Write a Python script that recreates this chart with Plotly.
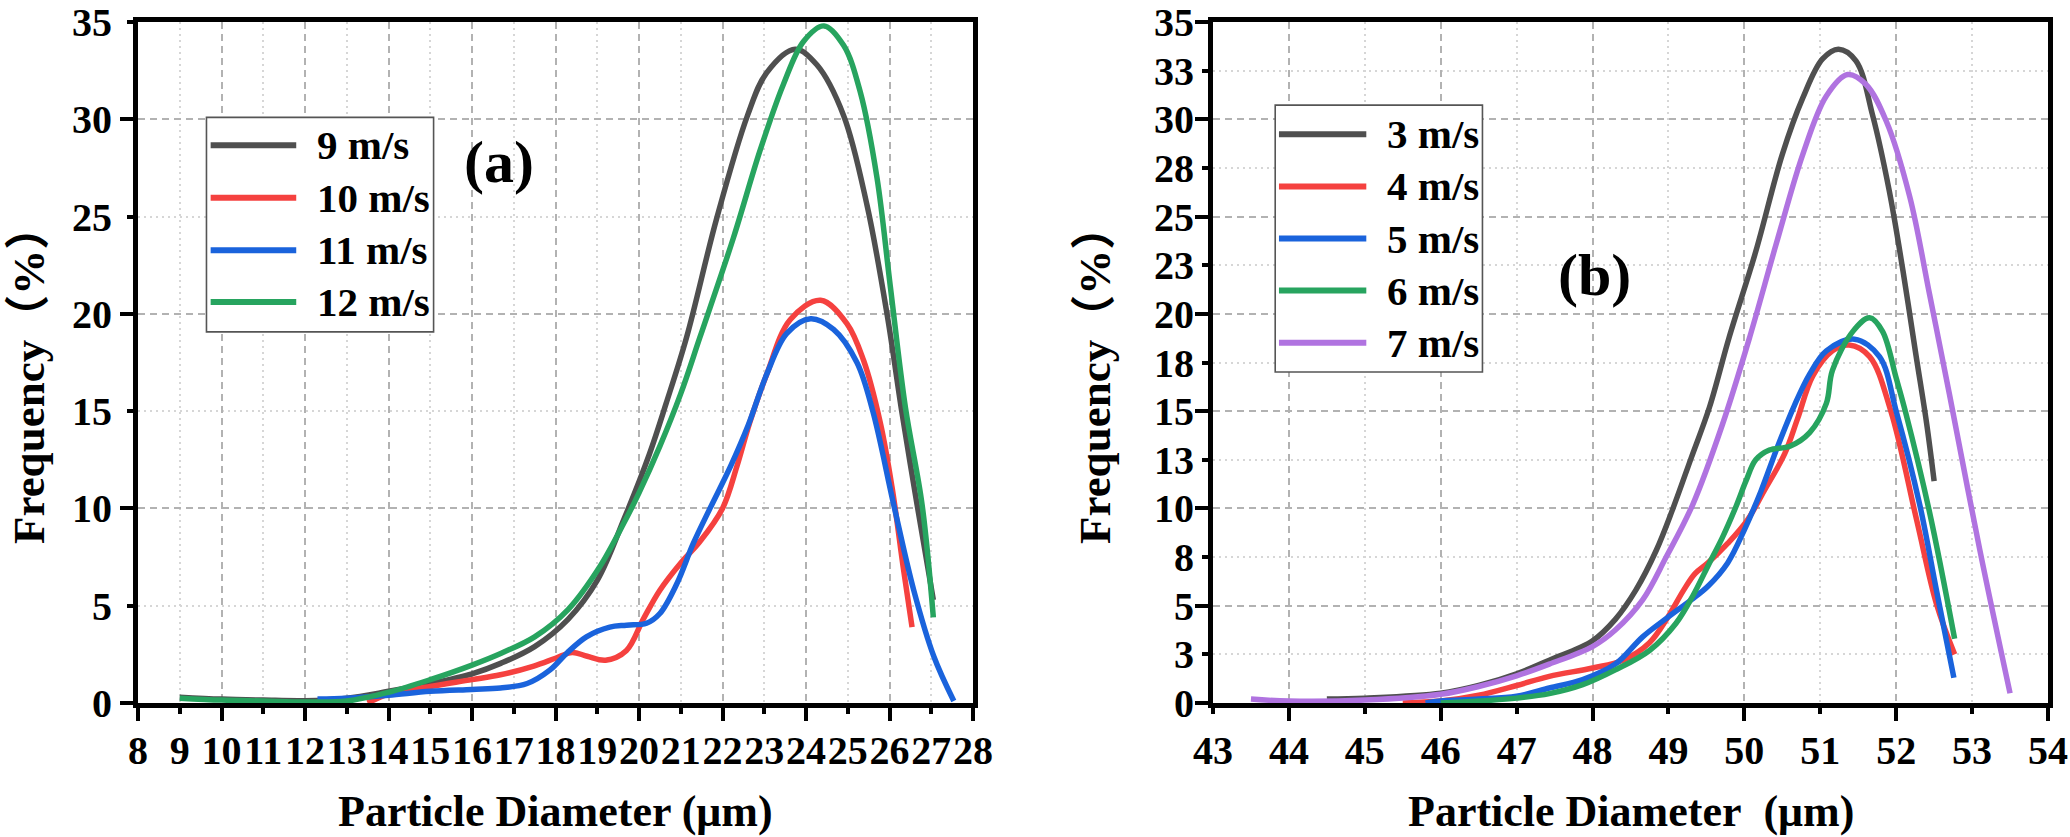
import math
import plotly.graph_objects as go

# ---------------- Panel (a) data ----------------
a_names = ["9 m/s", "10 m/s", "11 m/s", "12 m/s"]
a9_x = [9, 10, 11, 12, 13, 14, 15, 16, 16.7, 17.5, 18.3, 19.0, 19.65, 20.25, 20.65, 21.14, 21.86, 22.6, 23.06, 23.74, 24.26, 24.9, 25.46, 25.94, 26.3, 26.66, 27.05]
a9_y = [0.3, 0.2, 0.15, 0.12, 0.25, 0.6, 1.0, 1.5, 2.05, 2.9, 4.3, 6.3, 9.5, 12.8, 15.4, 18.8, 24.9, 30.2, 32.4, 33.6, 32.8, 30.2, 25.6, 20.0, 14.9, 10.2, 5.3]
a10_x = [13.5, 14, 15, 16, 16.68, 17.48, 18.0, 18.4, 18.76, 19.2, 19.7, 20.1, 20.5, 21.0, 21.46, 22.0, 22.35, 22.65, 23.06, 23.62, 24.35, 24.98, 25.38, 25.78, 26.06, 26.34, 26.54]
a10_y = [0.0, 0.45, 0.85, 1.2, 1.45, 1.9, 2.3, 2.6, 2.4, 2.2, 2.7, 4.3, 5.8, 7.2, 8.3, 10.0, 12.2, 14.4, 16.9, 19.7, 20.7, 19.5, 17.6, 14.4, 11.1, 6.8, 3.9]
a11_x = [12.3, 13, 14, 15, 16, 16.68, 17.32, 17.87, 18.27, 18.74, 19.3, 19.7, 20.18, 20.5, 20.9, 21.3, 21.7, 22.2, 22.62, 23.06, 23.54, 24.11, 24.66, 25.22, 25.6, 26.1, 26.58, 27.06, 27.54]
a11_y = [0.2, 0.25, 0.4, 0.6, 0.7, 0.77, 1.0, 1.7, 2.56, 3.4, 3.9, 4.0, 4.1, 4.6, 6.1, 8.2, 10.0, 12.2, 14.3, 16.9, 19.0, 19.75, 19.2, 17.5, 15.0, 10.2, 5.8, 2.4, 0.1]
a12_x = [9, 10, 11, 12, 13, 14, 15, 16, 16.7, 17.5, 18.3, 19.06, 19.65, 20.0, 20.5, 21.0, 21.46, 22.26, 22.9, 23.46, 23.94, 24.43, 24.9, 25.3, 25.7, 26.02, 26.38, 26.78, 27.05]
a12_y = [0.25, 0.15, 0.1, 0.05, 0.1, 0.55, 1.2, 1.95, 2.56, 3.4, 4.8, 7.0, 9.3, 10.8, 13.2, 15.9, 18.8, 23.9, 28.4, 31.8, 34.0, 34.8, 33.8, 31.4, 27.0, 21.4, 15.2, 10.2, 4.4]

# ---------------- Panel (b) data ----------------
b_names = ["3 m/s", "4 m/s", "5 m/s", "6 m/s", "7 m/s"]
b3_x = [44.5, 45, 46, 46.5, 47, 47.43, 48.0, 48.3, 48.57, 48.84, 49.05, 49.3, 49.54, 49.8, 50.15, 50.5, 50.77, 51.03, 51.24, 51.47, 51.69, 51.91, 52.09, 52.26, 52.4, 52.5]
b3_y = [0.2, 0.25, 0.5, 0.9, 1.5, 2.2, 3.2, 4.3, 5.8, 7.85, 9.9, 12.6, 15.2, 18.8, 23.2, 28.2, 31.1, 33.1, 33.6, 33.0, 30.2, 26.3, 22.2, 17.9, 14.4, 11.4]
b4_x = [45.5, 46, 46.5, 47, 47.43, 48.0, 48.4, 48.75, 48.99, 49.2, 49.35, 49.52, 49.78, 50.04, 50.26, 50.53, 50.7, 50.9, 51.16, 51.38, 51.65, 51.93, 52.27, 52.53, 52.77]
b4_y = [0.0, 0.1, 0.4, 0.9, 1.37, 1.8, 2.2, 3.1, 4.4, 5.8, 6.65, 7.2, 8.2, 9.4, 10.9, 12.8, 14.6, 16.8, 18.1, 18.4, 17.8, 15.0, 9.4, 5.1, 2.5]
b5_x = [45.8, 46, 46.5, 47, 47.43, 47.87, 48.3, 48.66, 48.99, 49.3, 49.52, 49.78, 50.0, 50.22, 50.44, 50.66, 50.86, 51.08, 51.45, 51.78, 52.0, 52.31, 52.53, 52.76]
b5_y = [0.0, 0.1, 0.2, 0.35, 0.77, 1.2, 2.0, 3.4, 4.4, 5.3, 6.0, 7.2, 8.9, 10.9, 13.2, 15.3, 16.9, 18.1, 18.7, 17.8, 15.0, 10.2, 5.8, 1.3]
b6_x = [46.0, 46.5, 47, 47.43, 47.87, 48.3, 48.75, 49.1, 49.32, 49.54, 49.71, 49.89, 50.02, 50.15, 50.33, 50.6, 50.86, 51.08, 51.16, 51.43, 51.65, 51.82, 52.0, 52.12, 52.44, 52.77]
b6_y = [0.0, 0.1, 0.25, 0.48, 0.94, 1.7, 2.7, 4.1, 5.5, 7.2, 8.5, 10.1, 11.4, 12.5, 13.0, 13.2, 13.9, 15.4, 17.1, 19.1, 19.8, 19.1, 16.7, 15.0, 9.8, 3.3]
b7_x = [43.5, 44, 45, 46, 46.5, 47, 47.43, 48.0, 48.3, 48.66, 48.97, 49.32, 49.71, 50.07, 50.42, 50.77, 51.08, 51.36, 51.6, 51.87, 52.18, 52.44, 52.7, 53.1, 53.5]
b7_y = [0.2, 0.1, 0.15, 0.45, 0.85, 1.4, 2.0, 2.9, 3.75, 5.3, 7.5, 10.2, 14.3, 18.8, 23.6, 28.2, 31.2, 32.3, 31.8, 29.9, 26.0, 21.0, 15.9, 7.9, 0.5]

# ---------------- Axis tick definitions ----------------
a_xticks = list(range(8, 29))
a_yticks = [0, 5, 10, 15, 20, 25, 30, 35]
b_xticks = list(range(43, 55))
b_yticks = [i * 2.5 for i in range(15)]
b_yticktext = [str(int(math.floor(v + 0.5))) for v in b_yticks]

# ---------------- Styles ----------------
GRAY, RED, BLUE, GREEN, PURPLE = "#4f4f4f", "#f5413f", "#1a63dc", "#27a45f", "#b073e0"
a_colors = [GRAY, RED, BLUE, GREEN]
b_colors = [GRAY, RED, BLUE, GREEN, PURPLE]
SERIF = "Liberation Serif, Times New Roman, Noto Sans CJK SC, serif"
LW = 5.5
SMOOTH = 1.0

fig = go.Figure()
a_series = [(a9_x, a9_y), (a10_x, a10_y), (a11_x, a11_y), (a12_x, a12_y)]
for (xs, ys), name, col in zip(a_series, a_names, a_colors):
    fig.add_trace(go.Scatter(x=xs, y=ys, name=name, mode="lines", xaxis="x", yaxis="y",
                             line=dict(color=col, width=LW, shape="spline", smoothing=SMOOTH),
                             showlegend=False))
b_series = [(b3_x, b3_y), (b4_x, b4_y), (b5_x, b5_y), (b6_x, b6_y), (b7_x, b7_y)]
for (xs, ys), name, col in zip(b_series, b_names, b_colors):
    fig.add_trace(go.Scatter(x=xs, y=ys, name=name, mode="lines", xaxis="x2", yaxis="y2",
                             line=dict(color=col, width=LW, shape="spline", smoothing=SMOOTH),
                             showlegend=False))

# empty helper traces so that the overlaid tick-label axes are rendered
for xa, ya in [("x3", "y"), ("x", "y3"), ("x4", "y2"), ("x2", "y4")]:
    fig.add_trace(go.Scatter(x=[None], y=[None], mode="markers", xaxis=xa, yaxis=ya,
                             showlegend=False, hoverinfo="skip"))

W, H = 2070, 837
TOP, BOTTOM = 22, 703
YDOM = [1 - BOTTOM / H, 1 - TOP / H]
AXDOM = [138 / W, 973 / W]
BXDOM = [1213 / W, 2048 / W]

tickfont = dict(family=SERIF, size=40, color="black", weight="bold")
MAJ_GRID = dict(showgrid=True, gridcolor="#b2b2b2", gridwidth=1.5, griddash="7px,5px")
MIN_GRID = dict(showgrid=True, gridcolor="#d6d6d6", gridwidth=1.5, griddash="2px,4px")


def frame_axis(domain, rng, anchor, major, minor):
    d = dict(range=rng, anchor=anchor, showline=True, linewidth=4.5, linecolor="black",
             mirror=True, ticks="outside", tickmode="array", tickvals=major, ticklen=13,
             tickwidth=4, tickcolor="black", showticklabels=False, zeroline=False,
             fixedrange=True, automargin=False,
             minor=dict(tickmode="array", tickvals=minor, ticks="outside", ticklen=6,
                        tickwidth=4, tickcolor="black", **MIN_GRID),
             **MAJ_GRID)
    if domain is not None:
        d["domain"] = domain
    return d


def label_axis(over, rng, anchor, side, vals, texts, standoff):
    return dict(overlaying=over, range=rng, anchor=anchor, side=side, tickmode="array",
                tickvals=vals, ticktext=texts, ticks="", showgrid=False, showline=False,
                zeroline=False, tickfont=tickfont, ticklabelstandoff=standoff, tickangle=0,
                ticklabeloverflow="allow", automargin=False, fixedrange=True)


fig.update_layout(
    width=W, height=H, margin=dict(l=0, r=0, t=0, b=0, autoexpand=False),
    paper_bgcolor="white", plot_bgcolor="white", showlegend=False,
    xaxis=frame_axis(AXDOM, [8, 28], "y", list(range(8, 29, 2)), list(range(9, 28, 2))),
    yaxis=frame_axis(YDOM, [0, 35], "x", [0, 10, 20, 30], [5, 15, 25, 35]),
    xaxis2=frame_axis(BXDOM, [43, 54], "y2", list(range(44, 55, 2)), list(range(43, 54, 2))),
    yaxis2=frame_axis(YDOM, [0, 35], "x2", [0, 5, 10, 15, 20, 25, 30, 35],
                      [2.5, 7.5, 12.5, 17.5, 22.5, 27.5, 32.5]),
    xaxis3=label_axis("x", [8, 28], "y", "bottom", a_xticks, [str(v) for v in a_xticks], 20),
    yaxis3=label_axis("y", [0, 35], "x", "left", a_yticks, [str(v) for v in a_yticks], 25),
    xaxis4=label_axis("x2", [43, 54], "y2", "bottom", b_xticks, [str(v) for v in b_xticks], 20),
    yaxis4=label_axis("y2", [0, 35], "x2", "left", b_yticks, b_yticktext, 18),
)

# ---------------- Axis titles and panel labels ----------------
xtitle_font = dict(family=SERIF, size=44, color="black", weight="bold")
ytitle_font = dict(family=SERIF, size=45, color="black", weight="bold")
annots = [
    dict(text="Particle Diameter (μm)", x=(AXDOM[0] + AXDOM[1]) / 2, y=1 - 811 / H, font=xtitle_font),
    dict(text="Particle Diameter\u00a0\u00a0(μm)", x=(BXDOM[0] + BXDOM[1]) / 2, y=1 - 811 / H, font=xtitle_font),
    dict(text="Frequency（%）", x=29 / W, y=1 - 375 / H, textangle=-90, font=ytitle_font),
    dict(text="Frequency（%）", x=1095 / W, y=1 - 375 / H, textangle=-90, font=ytitle_font),
]
for a in annots:
    fig.add_annotation(xref="paper", yref="paper", xanchor="center", yanchor="middle",
                       showarrow=False, **a)

panel_font = dict(family=SERIF, size=60, color="black", weight="bold")
fig.add_annotation(text="(a)", xref="x domain", yref="y domain", x=0.432, y=0.794,
                   xanchor="center", yanchor="middle", showarrow=False, font=panel_font)
fig.add_annotation(text="(b)", xref="x2 domain", yref="y2 domain", x=0.457, y=0.629,
                   xanchor="center", yanchor="middle", showarrow=False, font=panel_font)

# ---------------- Custom legends ----------------
leg_font = dict(family=SERIF, size=41, color="black", weight="bold")


def add_legend(xr, yr, box, line_x, text_x, rows, names, colors):
    fig.add_shape(type="rect", xref=xr, yref=yr, x0=box[0], x1=box[1], y0=box[2], y1=box[3],
                  line=dict(color="#555555", width=1.6), fillcolor="white", layer="above")
    for yy, nm, col in zip(rows, names, colors):
        fig.add_shape(type="line", xref=xr, yref=yr, x0=line_x[0], x1=line_x[1], y0=yy, y1=yy,
                      line=dict(color=col, width=6), layer="above")
        fig.add_annotation(text=nm, xref=xr, yref=yr, x=text_x, y=yy, xanchor="left",
                           yanchor="middle", showarrow=False, font=leg_font)


add_legend("x domain", "y domain", (0.082, 0.354, 0.545, 0.860), (0.087, 0.1895), 0.2125,
           [0.819, 0.742, 0.665, 0.589], a_names, a_colors)
add_legend("x2 domain", "y2 domain", (0.0745, 0.3227, 0.486, 0.878), (0.079, 0.1836), 0.2055,
           [0.835, 0.7586, 0.682, 0.6057, 0.529], b_names, b_colors)

fig.write_html("out.html")
